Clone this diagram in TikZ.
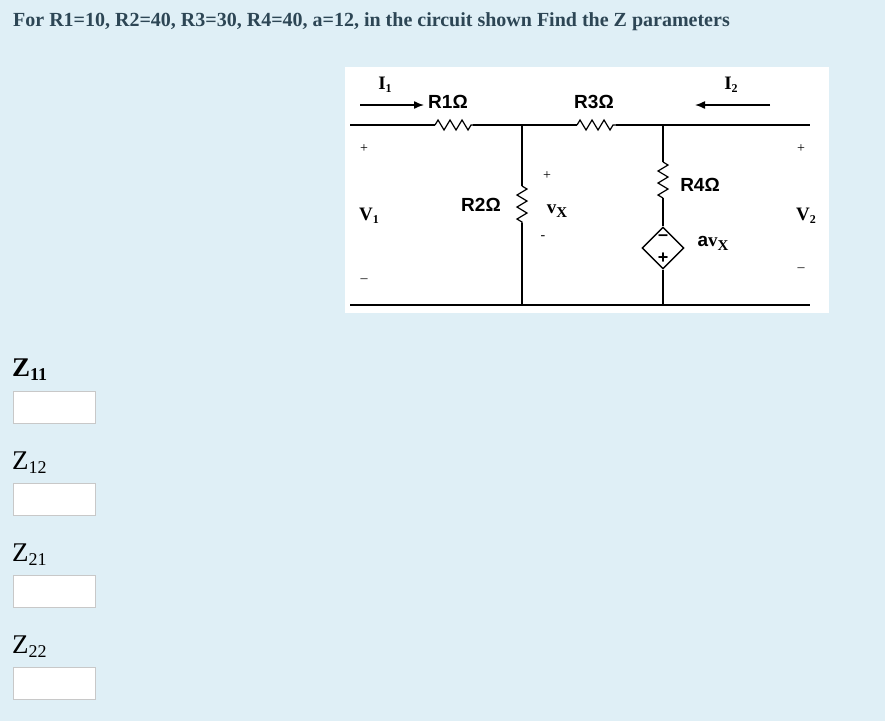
\documentclass[tikz,border=0pt]{standalone}
\usepackage{fontspec}
\setmainfont{Liberation Serif}
\newfontfamily\arialf{Liberation Sans}
\usetikzlibrary{decorations.pathmorphing,shapes.geometric,arrows.meta}
\definecolor{bgc}{RGB}{223,239,246}
\definecolor{titc}{RGB}{45,70,85}
\begin{document}
\begin{tikzpicture}[x=1pt,y=-1pt,
  wire/.style={line width=1.8pt},
  res/.style={line width=1.2pt,decorate,decoration={zigzag,segment length=12pt,amplitude=5pt}},
  lbl/.style={inner sep=0pt,font=\arialf\bfseries\fontsize{19}{21}\selectfont},
  sym/.style={inner sep=0pt,font=\fontsize{14}{15}\selectfont},
  vl/.style={inner sep=0pt,font=\bfseries\fontsize{19}{21}\selectfont},
  zl/.style={inner sep=0pt,anchor=base west,font=\fontsize{27}{29}\selectfont},
  cur/.style={line width=1.4pt,-{Latex[length=10pt,width=8pt]}},
  ibox/.style={draw={rgb,255:red,200;green,200;blue,200},fill=white,line width=0.8pt,minimum width=82pt,minimum height=32pt,anchor=north west,inner sep=0pt}]
\fill[bgc] (0,0) rectangle (885,721);
\useasboundingbox (0,0) rectangle (885,721);
\node[anchor=base west,inner sep=0pt,text=titc,font=\bfseries\fontsize{20}{22}\selectfont] (title) at (13,26) {For R1=10, R2=40, R3=30, R4=40, a=12, in the circuit shown Find the Z parameters};
\fill[white] (345,67) rectangle (829,313);
\coordinate (tl) at (350,125); \coordinate (tr) at (810,125);
\coordinate (bl) at (350,305); \coordinate (br) at (810,305);
\coordinate (r1a) at (435,125); \coordinate (r1b) at (473,125);
\coordinate (n1) at (522,125); \coordinate (n1b) at (522,305);
\coordinate (r3a) at (577,125); \coordinate (r3b) at (616,125);
\coordinate (n2) at (663,125); \coordinate (n2b) at (663,305);
\coordinate (r2a) at (522,186); \coordinate (r2b) at (522,223);
\coordinate (r4a) at (663,162); \coordinate (r4b) at (663,198);
\node[diamond,draw,line width=1.4pt,minimum width=42pt,minimum height=42pt,inner sep=0pt,fill=white] (src) at (663,248) {};
\draw[wire] (tl) -- (r1a); \draw[res] (r1a) -- (r1b); \draw[wire] (r1b) -- (n1) -- (r3a);
\draw[res] (r3a) -- (r3b); \draw[wire] (r3b) -- (n2) -- (tr);
\draw[wire] (bl) -- (br);
\draw[wire] (n1) -- (r2a); \draw[res] (r2a) -- (r2b); \draw[wire] (r2b) -- (n1b);
\draw[wire] (n2) -- (r4a); \draw[res] (r4a) -- (r4b); \draw[wire] (r4b) -- (src.north);
\draw[wire] (src.south) -- (n2b);
\node[inner sep=0pt,font=\arialf\bfseries\fontsize{18}{18}\selectfont] (sm) at (663,238) {–};
\node[inner sep=0pt,font=\arialf\bfseries\fontsize{18}{18}\selectfont] (sp) at (663,258) {+};
\coordinate (i1a) at (360,105); \coordinate (i1b) at (424,105);
\coordinate (i2a) at (770,105); \coordinate (i2b) at (695,105);
\draw[cur] (i1a) -- (i1b);
\draw[cur] (i2a) -- (i2b);
\node[vl] (I1) at (385,85) {I\raisebox{-3pt}{\fontsize{12}{12}\selectfont 1}};
\node[vl] (I2) at (731,85) {I\raisebox{-3pt}{\fontsize{12}{12}\selectfont 2}};
\node[lbl] (R1) at (448,102) {R1Ω};
\node[lbl] (R3) at (594,102) {R3Ω};
\node[lbl] (R2) at (481,205) {R2Ω};
\node[lbl] (R4) at (700,185) {R4Ω};
\node[sym] (p1) at (364,149) {+};
\node[sym] (m1) at (364,281) {--};
\node[sym] (p2) at (801,149) {+};
\node[sym] (m2) at (801,270) {--};
\node[sym] (px) at (547,176) {+};
\node[sym] (mx) at (543,238) {-};
\node[vl] (V1) at (369,216) {V\raisebox{-3pt}{\fontsize{12}{12}\selectfont 1}};
\node[vl] (V2) at (806,216) {V\raisebox{-3pt}{\fontsize{12}{12}\selectfont 2}};
\node[vl] (vx) at (557,211) {v\raisebox{-4pt}{\fontsize{15}{15}\selectfont X}};
\node[lbl] (avx) at (713,243) {a{\rmfamily v\raisebox{-4pt}{\fontsize{15}{15}\selectfont X}}};
\node[zl,font=\bfseries\fontsize{27}{29}\selectfont] (z11) at (12,376) {Z\raisebox{-4pt}{\fontsize{18}{18}\selectfont 11}};
\node[ibox] (b11) at (13,391) {};
\node[zl] (z12) at (12,469) {Z\raisebox{-4pt}{\fontsize{18}{18}\selectfont 12}};
\node[ibox] (b12) at (13,483) {};
\node[zl] (z21) at (12,561) {Z\raisebox{-4pt}{\fontsize{18}{18}\selectfont 21}};
\node[ibox] (b21) at (13,575) {};
\node[zl] (z22) at (12,653) {Z\raisebox{-4pt}{\fontsize{18}{18}\selectfont 22}};
\node[ibox] (b22) at (13,667) {};
\end{tikzpicture}
\end{document}
